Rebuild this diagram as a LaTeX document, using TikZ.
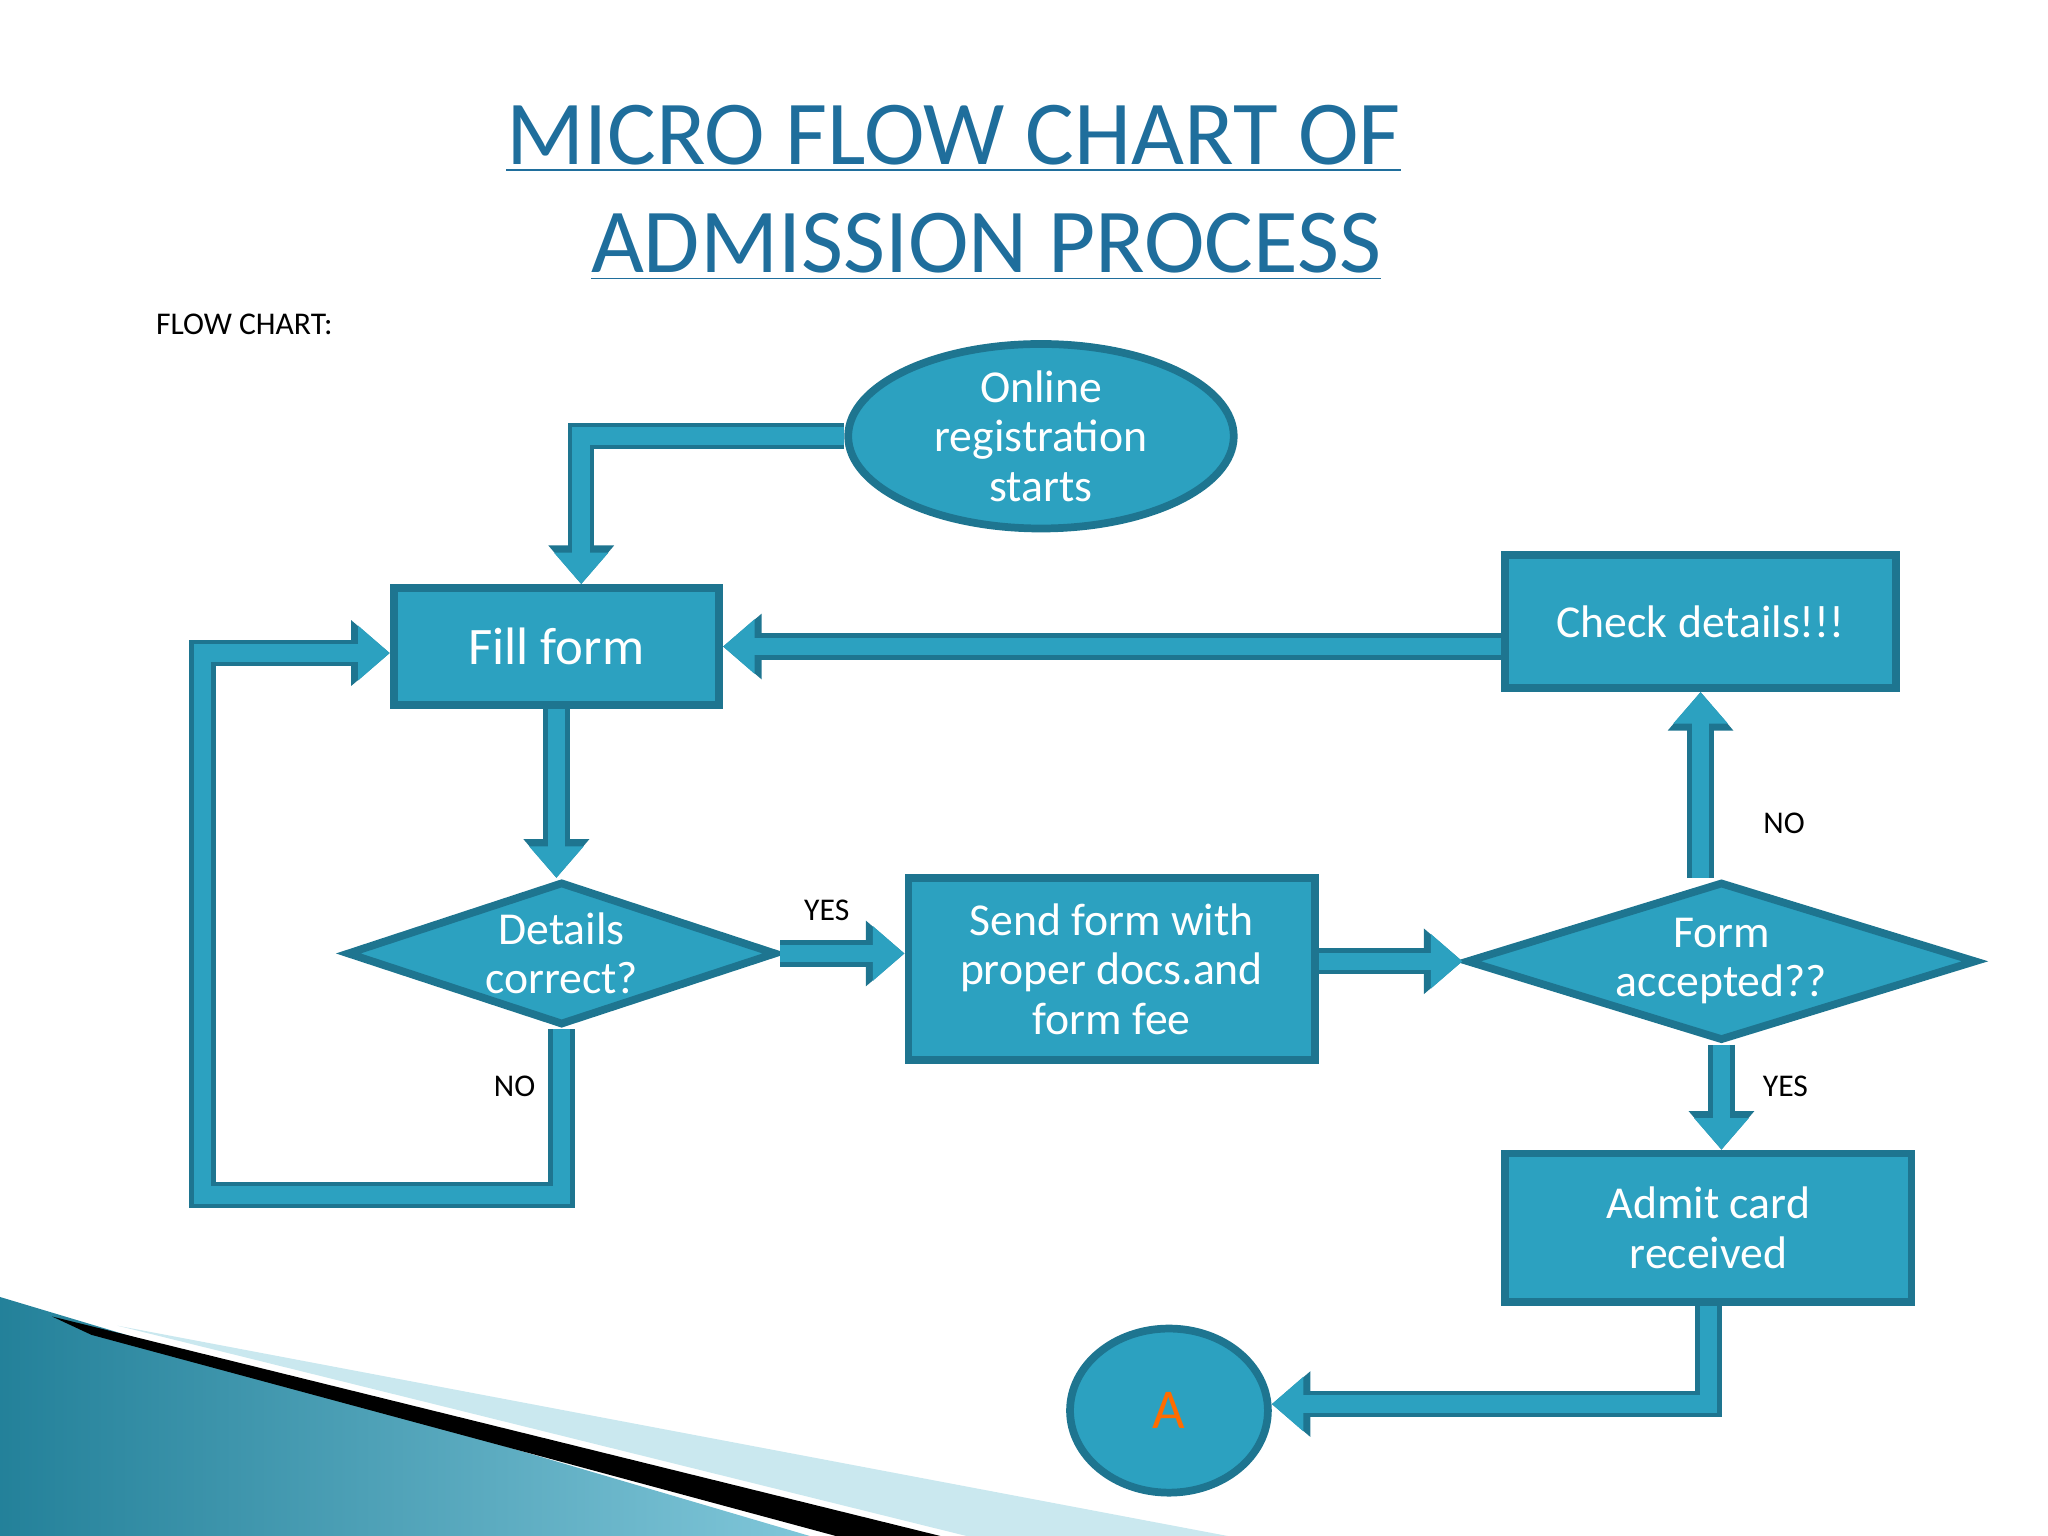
\documentclass[tikz,border=0pt]{standalone}
\usepackage{fontspec}
\setmainfont{Carlito}
\usetikzlibrary{arrows.meta,shapes.geometric}
\definecolor{fillc}{HTML}{2CA1C0}
\definecolor{edgec}{HTML}{1E7590}
\definecolor{titlec}{HTML}{1F6E9C}
\tikzset{
  box/.style={draw=edgec, line width=2.2pt, fill=fillc, text=white, align=center, font=\fontsize{13}{14}\selectfont, inner sep=0pt},
  pipe/.style={line width=5pt, draw=fillc, -{Triangle[width=15pt,length=9pt]},
    preaction={draw=edgec, line width=7.5pt, -{Triangle[width=18pt,length=11pt]}}},
  lbl/.style={font=\fontsize{9}{11}\selectfont, text=black}
}
\begin{document}
\begin{tikzpicture}[x=0.01306cm, y=-0.01306cm]
\useasboundingbox (0,0) rectangle (1568,1176);
% background swoosh
\shade[left color=fillc!80!black, right color=fillc!60!white] (0,993) -- (90,1020) -- (620,1176) -- (0,1176) -- cycle;
\fill[black] (40,1008) -- (720,1176) -- (640,1176) -- (70,1022) -- cycle;
\fill[fillc!25] (90,1015) -- (940,1176) -- (740,1176) -- cycle;
% title
\node[text=titlec, font=\fontsize{26}{30}\selectfont] (t1) at (730,106) {\underline{MICRO FLOW CHART OF}};
\node[text=titlec, font=\fontsize{26}{30}\selectfont] (t2) at (755,189) {\underline{ADMISSION PROCESS}};
\node[lbl, anchor=west] (fc) at (110,248) {FLOW CHART:};
% nodes
\node[box, ellipse, minimum width=109.7pt, minimum height=51.9pt] (start) at (797,334) {Online\\registration\\starts};
\node[box, rectangle, minimum width=92.6pt, minimum height=33.3pt, font=\fontsize{15}{17}\selectfont] (fill) at (426,495) {Fill form};
\node[box, rectangle, minimum width=111.2pt, minimum height=37.8pt] (check) at (1302,476) {Check details!!!};
\node[box, diamond, aspect=3, minimum width=122.3pt, minimum height=40.8pt] (det) at (430,730) {Details\\correct?};
\node[box, rectangle, minimum width=115.6pt, minimum height=51.9pt] (send) at (851,742) {Send form with\\proper docs.and\\form fee};
\node[box, diamond, aspect=3.2, minimum width=145.2pt, minimum height=45.2pt] (acc) at (1318,736) {Form\\accepted??};
\node[box, rectangle, minimum width=115.6pt, minimum height=42.2pt] (admit) at (1308,940) {Admit card\\received};
\node[box, ellipse, minimum width=56.3pt, minimum height=46.7pt, text=orange!85!red, font=\fontsize{16}{18}\selectfont] (a) at (895,1080) {A};
% connectors
\coordinate (c1) at (445,334);
\draw[pipe] (start.west) -- (c1) -- (fill.north -| c1);
\draw[pipe] (check.west |- fill) -- (fill.east);
\draw[pipe] (fill.south) -- (det.north -| fill.south);
\draw[pipe] (det.east) -- (send.west |- det.east);
\draw[pipe] (send.east |- acc) -- (acc.west);
\draw[pipe] (acc.north -| check) -- (check.south);
\draw[pipe] (acc.south) -- (admit.north -| acc.south);
\coordinate (c2) at (430,915);
\coordinate (c3) at (155,915);
\coordinate (c4) at (155,500);
\draw[pipe] (det.south) -- (c2) -- (c3) -- (c4) -- (fill.west |- c4);
\coordinate (c5) at (1308,1075);
\draw[pipe] (admit.south) -- (c5) -- (a.east |- c5);
% labels
\node[lbl] (y1) at (633,697) {YES};
\node[lbl] (n1) at (394,832) {NO};
\node[lbl] (n2) at (1366,630) {NO};
\node[lbl] (y2) at (1367,832) {YES};
\end{tikzpicture}
\end{document}
